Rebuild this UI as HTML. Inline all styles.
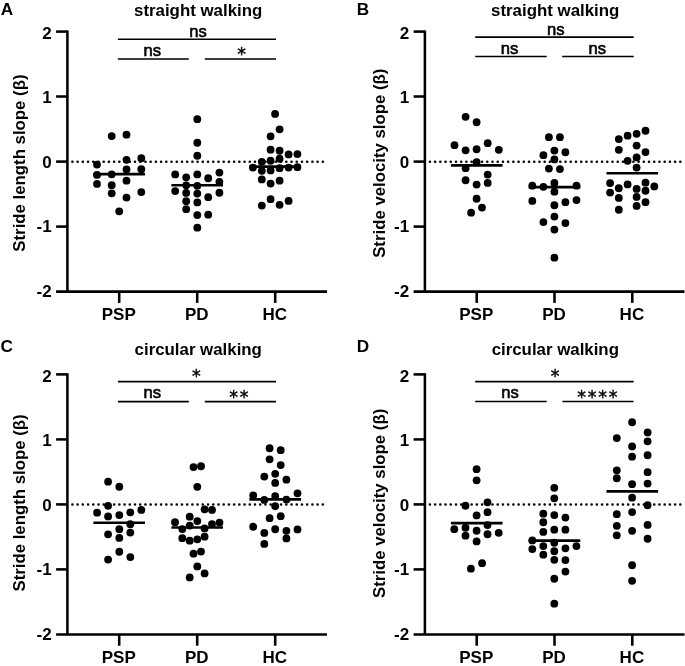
<!DOCTYPE html><html><head><meta charset="utf-8"><title>Figure</title>
<style>html,body{margin:0;padding:0;background:#fff}svg{display:block}text{font-family:"Liberation Sans",sans-serif;fill:#000}.b{font-weight:bold}</style></head><body>
<svg width="685" height="666" viewBox="0 0 685 666">
<rect width="685" height="666" fill="#fff"/>
<g id="panelA">
<text class="b" x="0.7" y="14.7" font-size="17.2">A</text>
<text class="b" x="198.15" y="15.5" font-size="16.85" text-anchor="middle">straight walking</text>
<text class="b" transform="translate(25.2,163.1) rotate(-90)" font-size="16.8" text-anchor="middle">Stride length slope (β)</text>
<path d="M67.4,30.4V292.8M56.1,291.6H327.0" stroke="#000" stroke-width="2.55" fill="none"/>
<path d="M56.1,31.6H67.4" stroke="#000" stroke-width="2.55"/>
<text class="b" x="51.6" y="38.7" font-size="17" text-anchor="end">2</text>
<path d="M56.1,96.5H67.4" stroke="#000" stroke-width="2.55"/>
<text class="b" x="51.6" y="102.9" font-size="17" text-anchor="end">1</text>
<path d="M56.1,161.6H67.4" stroke="#000" stroke-width="2.55"/>
<text class="b" x="51.6" y="167.8" font-size="17" text-anchor="end">0</text>
<path d="M56.1,226.6H67.4" stroke="#000" stroke-width="2.55"/>
<text class="b" x="51.6" y="232.3" font-size="17" text-anchor="end">-1</text>
<text class="b" x="51.6" y="297.2" font-size="17" text-anchor="end">-2</text>
<path d="M119.2,291.6V302.9" stroke="#000" stroke-width="2.55"/>
<text class="b" x="118.8" y="320.2" font-size="17" text-anchor="middle">PSP</text>
<path d="M197.2,291.6V302.9" stroke="#000" stroke-width="2.55"/>
<text class="b" x="196.8" y="320.2" font-size="17" text-anchor="middle">PD</text>
<path d="M275.2,291.6V302.9" stroke="#000" stroke-width="2.55"/>
<text class="b" x="274.8" y="320.2" font-size="17" text-anchor="middle">HC</text>
<path d="M72.40,161.70H323.40" stroke="#000" stroke-width="2.6" stroke-linecap="round" stroke-dasharray="0.01 5.207" fill="none"/>
<path d="M117.90,39.25H276.00M117.90,58.90H188.75M204.75,58.90H276.00" stroke="#000" stroke-width="1.55" fill="none"/>
<text x="198.0" y="37.0" font-size="16.6" text-anchor="middle" stroke="#000" stroke-width="0.6">ns</text>
<text x="152.2" y="55.9" font-size="16.6" text-anchor="middle" stroke="#000" stroke-width="0.6">ns</text>
<text x="237.22" y="60.45" font-size="17.5" stroke="#000" stroke-width="0.4" style="font-family:'DejaVu Sans',sans-serif">*</text>
<path d="M93.4,174.1H145.0" stroke="#000" stroke-width="2.6"/>
<path d="M171.4,185.3H223.0" stroke="#000" stroke-width="2.6"/>
<path d="M249.4,166.6H301.0" stroke="#000" stroke-width="2.6"/>
<circle cx="111.7" cy="136.05" r="3.9"/>
<circle cx="126.5" cy="134.65" r="3.9"/>
<circle cx="126.5" cy="159.85" r="3.9"/>
<circle cx="141.3" cy="158.25" r="3.9"/>
<circle cx="97.0" cy="164.55" r="3.9"/>
<circle cx="126.5" cy="169.45" r="3.9"/>
<circle cx="141.3" cy="169.15" r="3.9"/>
<circle cx="97.0" cy="174.95" r="3.9"/>
<circle cx="111.7" cy="174.35" r="3.9"/>
<circle cx="126.5" cy="180.65" r="3.9"/>
<circle cx="97.0" cy="183.95" r="3.9"/>
<circle cx="111.7" cy="185.15" r="3.9"/>
<circle cx="111.7" cy="193.35" r="3.9"/>
<circle cx="141.3" cy="192.05" r="3.9"/>
<circle cx="126.5" cy="197.55" r="3.9"/>
<circle cx="119.2" cy="211.35" r="3.9"/>
<circle cx="197.3" cy="119.15" r="3.9"/>
<circle cx="197.3" cy="142.75" r="3.9"/>
<circle cx="197.3" cy="155.75" r="3.9"/>
<circle cx="175.2" cy="174.45" r="3.9"/>
<circle cx="186.2" cy="177.35" r="3.9"/>
<circle cx="197.3" cy="174.45" r="3.9"/>
<circle cx="208.2" cy="178.25" r="3.9"/>
<circle cx="219.4" cy="172.55" r="3.9"/>
<circle cx="219.4" cy="181.85" r="3.9"/>
<circle cx="186.2" cy="185.35" r="3.9"/>
<circle cx="197.3" cy="185.85" r="3.9"/>
<circle cx="175.2" cy="191.05" r="3.9"/>
<circle cx="186.2" cy="192.95" r="3.9"/>
<circle cx="197.3" cy="193.55" r="3.9"/>
<circle cx="219.4" cy="192.75" r="3.9"/>
<circle cx="208.2" cy="197.15" r="3.9"/>
<circle cx="186.2" cy="201.15" r="3.9"/>
<circle cx="197.3" cy="202.45" r="3.9"/>
<circle cx="186.2" cy="209.15" r="3.9"/>
<circle cx="197.3" cy="215.05" r="3.9"/>
<circle cx="208.2" cy="214.65" r="3.9"/>
<circle cx="197.3" cy="227.65" r="3.9"/>
<circle cx="275.1" cy="113.95" r="3.9"/>
<circle cx="279.6" cy="129.35" r="3.9"/>
<circle cx="270.6" cy="136.35" r="3.9"/>
<circle cx="270.6" cy="149.65" r="3.9"/>
<circle cx="279.6" cy="150.75" r="3.9"/>
<circle cx="288.6" cy="154.45" r="3.9"/>
<circle cx="297.4" cy="154.05" r="3.9"/>
<circle cx="279.6" cy="158.75" r="3.9"/>
<circle cx="270.6" cy="160.75" r="3.9"/>
<circle cx="261.8" cy="161.85" r="3.9"/>
<circle cx="252.9" cy="167.55" r="3.9"/>
<circle cx="261.8" cy="170.85" r="3.9"/>
<circle cx="270.6" cy="170.45" r="3.9"/>
<circle cx="279.6" cy="168.15" r="3.9"/>
<circle cx="288.6" cy="167.55" r="3.9"/>
<circle cx="297.4" cy="167.15" r="3.9"/>
<circle cx="261.8" cy="179.45" r="3.9"/>
<circle cx="270.6" cy="183.55" r="3.9"/>
<circle cx="279.6" cy="180.65" r="3.9"/>
<circle cx="270.6" cy="199.15" r="3.9"/>
<circle cx="288.6" cy="200.95" r="3.9"/>
<circle cx="261.8" cy="205.55" r="3.9"/>
<circle cx="279.6" cy="204.85" r="3.9"/>
</g>
<g id="panelB">
<text class="b" x="356.7" y="14.8" font-size="17.2">B</text>
<text class="b" x="555.20" y="15.5" font-size="16.85" text-anchor="middle">straight walking</text>
<text class="b" transform="translate(384.7,163.2) rotate(-90)" font-size="16.8" text-anchor="middle">Stride velocity slope (β)</text>
<path d="M424.9,30.4V292.8M413.6,291.6H684.5" stroke="#000" stroke-width="2.55" fill="none"/>
<path d="M413.6,31.6H424.9" stroke="#000" stroke-width="2.55"/>
<text class="b" x="409.1" y="38.7" font-size="17" text-anchor="end">2</text>
<path d="M413.6,96.5H424.9" stroke="#000" stroke-width="2.55"/>
<text class="b" x="409.1" y="102.9" font-size="17" text-anchor="end">1</text>
<path d="M413.6,161.6H424.9" stroke="#000" stroke-width="2.55"/>
<text class="b" x="409.1" y="167.8" font-size="17" text-anchor="end">0</text>
<path d="M413.6,226.6H424.9" stroke="#000" stroke-width="2.55"/>
<text class="b" x="409.1" y="232.3" font-size="17" text-anchor="end">-1</text>
<text class="b" x="409.1" y="297.2" font-size="17" text-anchor="end">-2</text>
<path d="M476.7,291.6V302.9" stroke="#000" stroke-width="2.55"/>
<text class="b" x="476.3" y="320.2" font-size="17" text-anchor="middle">PSP</text>
<path d="M554.5,291.6V302.9" stroke="#000" stroke-width="2.55"/>
<text class="b" x="554.1" y="320.2" font-size="17" text-anchor="middle">PD</text>
<path d="M632.3,291.6V302.9" stroke="#000" stroke-width="2.55"/>
<text class="b" x="631.9" y="320.2" font-size="17" text-anchor="middle">HC</text>
<path d="M429.90,161.70H680.90" stroke="#000" stroke-width="2.6" stroke-linecap="round" stroke-dasharray="0.01 5.207" fill="none"/>
<path d="M475.20,37.10H633.70M475.20,56.40H546.70M562.20,56.40H633.70" stroke="#000" stroke-width="1.55" fill="none"/>
<text x="555.8" y="34.6" font-size="16.6" text-anchor="middle" stroke="#000" stroke-width="0.6">ns</text>
<text x="509.6" y="53.7" font-size="16.6" text-anchor="middle" stroke="#000" stroke-width="0.6">ns</text>
<text x="597.2" y="53.7" font-size="16.6" text-anchor="middle" stroke="#000" stroke-width="0.6">ns</text>
<path d="M450.9,165.4H502.5" stroke="#000" stroke-width="2.6"/>
<path d="M528.7,187.1H580.3" stroke="#000" stroke-width="2.6"/>
<path d="M606.5,173.2H658.1" stroke="#000" stroke-width="2.6"/>
<circle cx="465.6" cy="116.85" r="3.9"/>
<circle cx="476.6" cy="122.25" r="3.9"/>
<circle cx="454.5" cy="145.15" r="3.9"/>
<circle cx="487.7" cy="143.15" r="3.9"/>
<circle cx="465.6" cy="150.35" r="3.9"/>
<circle cx="476.6" cy="149.25" r="3.9"/>
<circle cx="498.8" cy="149.85" r="3.9"/>
<circle cx="476.6" cy="162.25" r="3.9"/>
<circle cx="465.6" cy="168.15" r="3.9"/>
<circle cx="487.7" cy="174.55" r="3.9"/>
<circle cx="465.6" cy="180.25" r="3.9"/>
<circle cx="487.7" cy="182.95" r="3.9"/>
<circle cx="476.6" cy="184.55" r="3.9"/>
<circle cx="476.6" cy="198.75" r="3.9"/>
<circle cx="482.0" cy="207.55" r="3.9"/>
<circle cx="471.1" cy="212.65" r="3.9"/>
<circle cx="548.9" cy="137.15" r="3.9"/>
<circle cx="559.9" cy="137.15" r="3.9"/>
<circle cx="554.4" cy="150.55" r="3.9"/>
<circle cx="565.4" cy="152.25" r="3.9"/>
<circle cx="543.4" cy="155.15" r="3.9"/>
<circle cx="554.4" cy="159.45" r="3.9"/>
<circle cx="548.9" cy="168.55" r="3.9"/>
<circle cx="559.9" cy="169.05" r="3.9"/>
<circle cx="532.3" cy="185.65" r="3.9"/>
<circle cx="543.4" cy="186.85" r="3.9"/>
<circle cx="554.4" cy="182.95" r="3.9"/>
<circle cx="576.5" cy="185.65" r="3.9"/>
<circle cx="554.4" cy="191.65" r="3.9"/>
<circle cx="532.3" cy="200.95" r="3.9"/>
<circle cx="576.5" cy="200.05" r="3.9"/>
<circle cx="565.4" cy="202.15" r="3.9"/>
<circle cx="554.4" cy="205.25" r="3.9"/>
<circle cx="554.4" cy="216.55" r="3.9"/>
<circle cx="543.4" cy="222.05" r="3.9"/>
<circle cx="565.4" cy="223.05" r="3.9"/>
<circle cx="554.4" cy="229.55" r="3.9"/>
<circle cx="554.4" cy="257.65" r="3.9"/>
<circle cx="645.5" cy="130.75" r="3.9"/>
<circle cx="636.6" cy="133.85" r="3.9"/>
<circle cx="627.6" cy="135.65" r="3.9"/>
<circle cx="618.8" cy="139.05" r="3.9"/>
<circle cx="636.6" cy="145.55" r="3.9"/>
<circle cx="618.8" cy="149.85" r="3.9"/>
<circle cx="645.5" cy="152.05" r="3.9"/>
<circle cx="636.6" cy="157.45" r="3.9"/>
<circle cx="627.6" cy="160.85" r="3.9"/>
<circle cx="636.6" cy="167.55" r="3.9"/>
<circle cx="610.1" cy="183.05" r="3.9"/>
<circle cx="627.6" cy="184.45" r="3.9"/>
<circle cx="645.5" cy="182.65" r="3.9"/>
<circle cx="654.3" cy="186.45" r="3.9"/>
<circle cx="618.8" cy="188.25" r="3.9"/>
<circle cx="636.6" cy="188.95" r="3.9"/>
<circle cx="645.5" cy="190.75" r="3.9"/>
<circle cx="610.1" cy="192.55" r="3.9"/>
<circle cx="618.8" cy="197.95" r="3.9"/>
<circle cx="636.6" cy="196.95" r="3.9"/>
<circle cx="645.5" cy="202.15" r="3.9"/>
<circle cx="636.6" cy="205.95" r="3.9"/>
<circle cx="618.8" cy="209.75" r="3.9"/>
</g>
<g id="panelC">
<text class="b" x="0.4" y="352.0" font-size="17.2">C</text>
<text class="b" x="198.25" y="355.4" font-size="16.85" text-anchor="middle">circular walking</text>
<text class="b" transform="translate(25.2,503.0) rotate(-90)" font-size="16.8" text-anchor="middle">Stride length slope (β)</text>
<path d="M67.4,373.2V635.6M56.1,634.4H327.0" stroke="#000" stroke-width="2.55" fill="none"/>
<path d="M56.1,374.4H67.4" stroke="#000" stroke-width="2.55"/>
<text class="b" x="51.6" y="381.6" font-size="17" text-anchor="end">2</text>
<path d="M56.1,439.4H67.4" stroke="#000" stroke-width="2.55"/>
<text class="b" x="51.6" y="445.8" font-size="17" text-anchor="end">1</text>
<path d="M56.1,504.4H67.4" stroke="#000" stroke-width="2.55"/>
<text class="b" x="51.6" y="510.6" font-size="17" text-anchor="end">0</text>
<path d="M56.1,569.4H67.4" stroke="#000" stroke-width="2.55"/>
<text class="b" x="51.6" y="575.2" font-size="17" text-anchor="end">-1</text>
<text class="b" x="51.6" y="640.0" font-size="17" text-anchor="end">-2</text>
<path d="M119.2,634.4V645.7" stroke="#000" stroke-width="2.55"/>
<text class="b" x="118.8" y="663.0" font-size="17" text-anchor="middle">PSP</text>
<path d="M197.2,634.4V645.7" stroke="#000" stroke-width="2.55"/>
<text class="b" x="196.8" y="663.0" font-size="17" text-anchor="middle">PD</text>
<path d="M275.2,634.4V645.7" stroke="#000" stroke-width="2.55"/>
<text class="b" x="274.8" y="663.0" font-size="17" text-anchor="middle">HC</text>
<path d="M72.40,504.55H323.40" stroke="#000" stroke-width="2.6" stroke-linecap="round" stroke-dasharray="0.01 5.207" fill="none"/>
<path d="M117.90,381.60H276.05M117.90,401.60H188.80M204.80,401.60H276.05" stroke="#000" stroke-width="1.55" fill="none"/>
<text x="192.02" y="382.25" font-size="17.5" stroke="#000" stroke-width="0.4" style="font-family:'DejaVu Sans',sans-serif">*</text>
<text x="152.2" y="397.9" font-size="16.6" text-anchor="middle" stroke="#000" stroke-width="0.6">ns</text>
<text x="229.27 239.77" y="403.15" font-size="17.5" stroke="#000" stroke-width="0.4" style="font-family:'DejaVu Sans',sans-serif">**</text>
<path d="M93.4,522.8H145.0" stroke="#000" stroke-width="2.6"/>
<path d="M171.4,527.5H223.0" stroke="#000" stroke-width="2.6"/>
<path d="M249.4,499.4H301.0" stroke="#000" stroke-width="2.6"/>
<circle cx="108.1" cy="481.65" r="3.9"/>
<circle cx="119.3" cy="486.75" r="3.9"/>
<circle cx="108.1" cy="505.85" r="3.9"/>
<circle cx="141.3" cy="509.95" r="3.9"/>
<circle cx="97.1" cy="512.65" r="3.9"/>
<circle cx="130.3" cy="512.35" r="3.9"/>
<circle cx="108.1" cy="516.45" r="3.9"/>
<circle cx="119.3" cy="515.05" r="3.9"/>
<circle cx="130.3" cy="524.25" r="3.9"/>
<circle cx="119.3" cy="529.25" r="3.9"/>
<circle cx="130.3" cy="532.55" r="3.9"/>
<circle cx="108.1" cy="534.35" r="3.9"/>
<circle cx="119.3" cy="537.95" r="3.9"/>
<circle cx="119.3" cy="551.75" r="3.9"/>
<circle cx="130.3" cy="557.05" r="3.9"/>
<circle cx="108.1" cy="559.55" r="3.9"/>
<circle cx="193.5" cy="467.05" r="3.9"/>
<circle cx="201.0" cy="466.25" r="3.9"/>
<circle cx="197.3" cy="486.85" r="3.9"/>
<circle cx="204.6" cy="509.35" r="3.9"/>
<circle cx="212.0" cy="509.95" r="3.9"/>
<circle cx="189.7" cy="516.65" r="3.9"/>
<circle cx="197.3" cy="521.05" r="3.9"/>
<circle cx="175.0" cy="522.15" r="3.9"/>
<circle cx="219.5" cy="522.55" r="3.9"/>
<circle cx="212.0" cy="524.05" r="3.9"/>
<circle cx="189.7" cy="525.55" r="3.9"/>
<circle cx="182.3" cy="529.05" r="3.9"/>
<circle cx="204.6" cy="528.45" r="3.9"/>
<circle cx="182.3" cy="538.15" r="3.9"/>
<circle cx="204.6" cy="536.65" r="3.9"/>
<circle cx="189.7" cy="540.65" r="3.9"/>
<circle cx="197.3" cy="539.35" r="3.9"/>
<circle cx="201.0" cy="551.55" r="3.9"/>
<circle cx="193.5" cy="553.65" r="3.9"/>
<circle cx="197.3" cy="566.45" r="3.9"/>
<circle cx="204.6" cy="573.45" r="3.9"/>
<circle cx="189.7" cy="577.45" r="3.9"/>
<circle cx="269.6" cy="448.25" r="3.9"/>
<circle cx="280.7" cy="450.15" r="3.9"/>
<circle cx="269.6" cy="459.35" r="3.9"/>
<circle cx="280.7" cy="465.05" r="3.9"/>
<circle cx="275.2" cy="473.85" r="3.9"/>
<circle cx="264.3" cy="476.55" r="3.9"/>
<circle cx="286.4" cy="479.65" r="3.9"/>
<circle cx="275.2" cy="482.95" r="3.9"/>
<circle cx="297.5" cy="493.35" r="3.9"/>
<circle cx="253.2" cy="495.45" r="3.9"/>
<circle cx="275.2" cy="496.05" r="3.9"/>
<circle cx="264.3" cy="499.95" r="3.9"/>
<circle cx="286.4" cy="499.55" r="3.9"/>
<circle cx="275.2" cy="506.25" r="3.9"/>
<circle cx="280.7" cy="516.15" r="3.9"/>
<circle cx="269.6" cy="518.15" r="3.9"/>
<circle cx="253.2" cy="526.75" r="3.9"/>
<circle cx="275.2" cy="529.25" r="3.9"/>
<circle cx="297.5" cy="529.45" r="3.9"/>
<circle cx="286.4" cy="530.85" r="3.9"/>
<circle cx="264.3" cy="532.95" r="3.9"/>
<circle cx="286.4" cy="538.45" r="3.9"/>
<circle cx="264.3" cy="543.95" r="3.9"/>
</g>
<g id="panelD">
<text class="b" x="356.7" y="352.1" font-size="17.2">D</text>
<text class="b" x="555.30" y="355.4" font-size="16.85" text-anchor="middle">circular walking</text>
<text class="b" transform="translate(384.7,503.4) rotate(-90)" font-size="16.8" text-anchor="middle">Stride velocity slope (β)</text>
<path d="M424.9,373.2V635.6M413.6,634.4H684.5" stroke="#000" stroke-width="2.55" fill="none"/>
<path d="M413.6,374.4H424.9" stroke="#000" stroke-width="2.55"/>
<text class="b" x="409.1" y="381.6" font-size="17" text-anchor="end">2</text>
<path d="M413.6,439.4H424.9" stroke="#000" stroke-width="2.55"/>
<text class="b" x="409.1" y="445.8" font-size="17" text-anchor="end">1</text>
<path d="M413.6,504.4H424.9" stroke="#000" stroke-width="2.55"/>
<text class="b" x="409.1" y="510.6" font-size="17" text-anchor="end">0</text>
<path d="M413.6,569.4H424.9" stroke="#000" stroke-width="2.55"/>
<text class="b" x="409.1" y="575.2" font-size="17" text-anchor="end">-1</text>
<text class="b" x="409.1" y="640.0" font-size="17" text-anchor="end">-2</text>
<path d="M476.7,634.4V645.7" stroke="#000" stroke-width="2.55"/>
<text class="b" x="476.3" y="663.0" font-size="17" text-anchor="middle">PSP</text>
<path d="M554.5,634.4V645.7" stroke="#000" stroke-width="2.55"/>
<text class="b" x="554.1" y="663.0" font-size="17" text-anchor="middle">PD</text>
<path d="M632.3,634.4V645.7" stroke="#000" stroke-width="2.55"/>
<text class="b" x="631.9" y="663.0" font-size="17" text-anchor="middle">HC</text>
<path d="M429.90,504.55H680.90" stroke="#000" stroke-width="2.6" stroke-linecap="round" stroke-dasharray="0.01 5.207" fill="none"/>
<path d="M475.20,381.60H633.60M475.20,401.50H546.70M562.40,401.50H633.60" stroke="#000" stroke-width="1.55" fill="none"/>
<text x="550.77" y="382.25" font-size="17.5" stroke="#000" stroke-width="0.4" style="font-family:'DejaVu Sans',sans-serif">*</text>
<text x="510.0" y="397.9" font-size="16.6" text-anchor="middle" stroke="#000" stroke-width="0.6">ns</text>
<text x="577.17 587.67 598.17 608.67" y="403.05" font-size="17.5" stroke="#000" stroke-width="0.4" style="font-family:'DejaVu Sans',sans-serif">****</text>
<path d="M450.9,523.1H502.5" stroke="#000" stroke-width="2.6"/>
<path d="M528.7,540.6H580.3" stroke="#000" stroke-width="2.6"/>
<path d="M606.5,491.4H658.1" stroke="#000" stroke-width="2.6"/>
<circle cx="476.6" cy="469.15" r="3.9"/>
<circle cx="476.6" cy="480.35" r="3.9"/>
<circle cx="487.5" cy="502.35" r="3.9"/>
<circle cx="465.5" cy="505.75" r="3.9"/>
<circle cx="487.5" cy="512.15" r="3.9"/>
<circle cx="476.6" cy="515.45" r="3.9"/>
<circle cx="487.5" cy="525.05" r="3.9"/>
<circle cx="465.5" cy="527.75" r="3.9"/>
<circle cx="454.3" cy="529.15" r="3.9"/>
<circle cx="476.6" cy="530.75" r="3.9"/>
<circle cx="498.7" cy="532.85" r="3.9"/>
<circle cx="487.5" cy="534.25" r="3.9"/>
<circle cx="465.5" cy="535.65" r="3.9"/>
<circle cx="476.6" cy="541.45" r="3.9"/>
<circle cx="482.1" cy="563.15" r="3.9"/>
<circle cx="470.9" cy="568.65" r="3.9"/>
<circle cx="554.3" cy="487.85" r="3.9"/>
<circle cx="554.3" cy="498.35" r="3.9"/>
<circle cx="543.3" cy="513.65" r="3.9"/>
<circle cx="554.3" cy="515.05" r="3.9"/>
<circle cx="565.4" cy="517.55" r="3.9"/>
<circle cx="543.3" cy="522.25" r="3.9"/>
<circle cx="554.3" cy="529.65" r="3.9"/>
<circle cx="565.4" cy="529.65" r="3.9"/>
<circle cx="543.3" cy="531.95" r="3.9"/>
<circle cx="532.3" cy="540.45" r="3.9"/>
<circle cx="554.3" cy="542.75" r="3.9"/>
<circle cx="543.3" cy="546.05" r="3.9"/>
<circle cx="576.4" cy="546.05" r="3.9"/>
<circle cx="532.3" cy="549.05" r="3.9"/>
<circle cx="565.4" cy="548.35" r="3.9"/>
<circle cx="554.3" cy="551.25" r="3.9"/>
<circle cx="543.3" cy="554.65" r="3.9"/>
<circle cx="554.3" cy="559.85" r="3.9"/>
<circle cx="565.4" cy="560.05" r="3.9"/>
<circle cx="565.4" cy="571.55" r="3.9"/>
<circle cx="554.3" cy="578.75" r="3.9"/>
<circle cx="554.3" cy="603.65" r="3.9"/>
<circle cx="632.1" cy="422.25" r="3.9"/>
<circle cx="647.6" cy="432.45" r="3.9"/>
<circle cx="616.8" cy="438.05" r="3.9"/>
<circle cx="647.6" cy="441.35" r="3.9"/>
<circle cx="632.1" cy="446.45" r="3.9"/>
<circle cx="647.6" cy="455.25" r="3.9"/>
<circle cx="632.1" cy="456.65" r="3.9"/>
<circle cx="616.8" cy="470.35" r="3.9"/>
<circle cx="647.6" cy="472.15" r="3.9"/>
<circle cx="616.8" cy="478.25" r="3.9"/>
<circle cx="632.1" cy="484.15" r="3.9"/>
<circle cx="647.6" cy="483.55" r="3.9"/>
<circle cx="632.1" cy="497.65" r="3.9"/>
<circle cx="647.6" cy="505.25" r="3.9"/>
<circle cx="632.1" cy="512.05" r="3.9"/>
<circle cx="616.8" cy="514.15" r="3.9"/>
<circle cx="647.6" cy="524.95" r="3.9"/>
<circle cx="616.8" cy="525.85" r="3.9"/>
<circle cx="632.1" cy="530.85" r="3.9"/>
<circle cx="616.8" cy="535.35" r="3.9"/>
<circle cx="647.6" cy="538.75" r="3.9"/>
<circle cx="632.1" cy="565.25" r="3.9"/>
<circle cx="632.1" cy="580.85" r="3.9"/>
</g>
</svg></body></html>
